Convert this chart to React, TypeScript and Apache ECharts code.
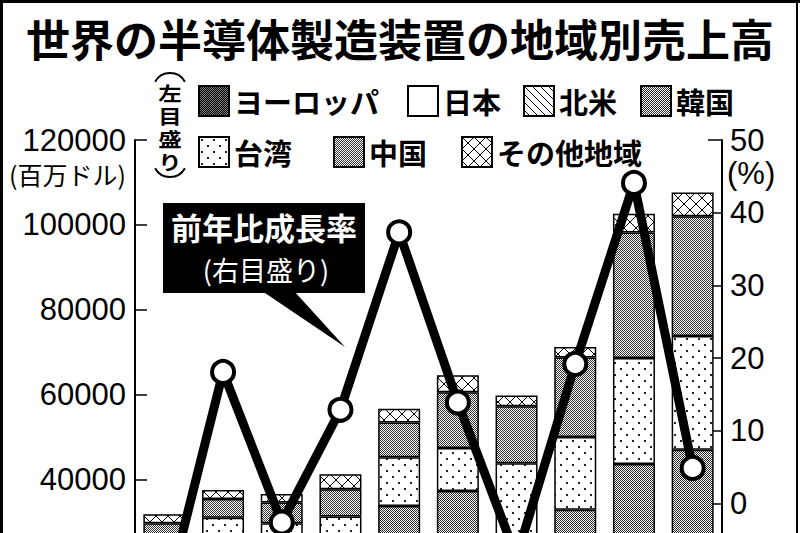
import React, { useEffect, useRef } from "react";
import * as echarts from "echarts";

const years = ["2013", "2014", "2015", "2016", "2017", "2018", "2019", "2020", "2021", "2022"];
const europe = [1910, 2380, 1940, 2180, 3670, 4220, 2270, 2640, 3250, 6620];
const japan = [3380, 4180, 5490, 4630, 6490, 9470, 6270, 7580, 7800, 8350];
const northAmerica = [5250, 8160, 5120, 4490, 5590, 5830, 8150, 6530, 7610, 10480];
const korea = [5180, 6840, 7470, 7690, 17950, 17710, 9970, 16080, 24980, 21510];
const taiwan = [10570, 9410, 9640, 12230, 11490, 10170, 17120, 17150, 24940, 26820];
const china = [3370, 4370, 4900, 6460, 8230, 13110, 13450, 18720, 29620, 28270];
const others = [2110, 2170, 1970, 3500, 3200, 4000, 2520, 2480, 4400, 5560];
const growth = [-14.0, 18.1, -2.6, 12.9, 37.3, 13.9, -7.4, 19.2, 44.1, 4.9];

const leftTicks = { min: 0, max: 120000, interval: 20000, firstShown: 40000 };
const rightTicks = { min: -20, max: 50, interval: 10, firstShown: 0 };

const NUM_FONT = "'Liberation Sans', Arial, sans-serif";
const CJK_FONT = "'Noto Sans CJK JP', 'Noto Sans', sans-serif";

function makePattern(kind: string) {
  const sizes: Record<string, number> = { europe: 2, korea: 2, china: 2, taiwan: 12, na: 8, row: 12, white: 2 };
  const s = sizes[kind];
  const c = document.createElement("canvas");
  c.width = s;
  c.height = s;
  const ctx = c.getContext("2d")!;
  ctx.fillStyle = "#fff";
  ctx.fillRect(0, 0, s, s);
  const px = (x: number, y: number, col: string) => {
    ctx.fillStyle = col;
    ctx.fillRect(x, y, 1, 1);
  };
  if (kind === "europe") {
    px(0, 0, "#000"); px(1, 1, "#000"); px(1, 0, "#7a7a7a"); px(0, 1, "#7a7a7a");
  } else if (kind === "korea") {
    px(0, 0, "#2a2a2a"); px(1, 1, "#2a2a2a");
  } else if (kind === "china") {
    px(0, 0, "#333"); px(1, 1, "#333");
  } else if (kind === "taiwan") {
    ctx.fillStyle = "#222";
    ctx.fillRect(2, 2, 2, 2);
    ctx.fillRect(8, 8, 2, 2);
  } else if (kind === "na") {
    for (let i = 0; i < s; i++) px(i, i, "#000");
  } else if (kind === "row") {
    for (let i = 0; i < s; i++) {
      px(i, i, "#000");
      px(i, s - 1 - i, "#000");
    }
  }
  return { image: c, repeat: "repeat", imageWidth: s, imageHeight: s } as any;
}

export default function App() {
  const ref = useRef<HTMLDivElement>(null);
  useEffect(() => {
    if (!ref.current) return;
    const chart = echarts.init(ref.current, null, { renderer: "svg" });
    const seriesDefs = [
      { name: "ヨーロッパ", data: europe, pat: "europe" },
      { name: "日本", data: japan, pat: "white" },
      { name: "北米", data: northAmerica, pat: "na" },
      { name: "韓国", data: korea, pat: "korea" },
      { name: "台湾", data: taiwan, pat: "taiwan" },
      { name: "中国", data: china, pat: "china" },
      { name: "その他地域", data: others, pat: "row" },
    ];
    const legendPos: Record<string, [number, number]> = {
      "ヨーロッパ": [198, 85],
      "日本": [407, 85],
      "北米": [523, 85],
      "韓国": [640, 85],
      "台湾": [198, 136],
      "中国": [333, 136],
      "その他地域": [461, 136],
    };
    const legends = seriesDefs.map((d) => ({
      data: [d.name],
      left: legendPos[d.name][0],
      top: legendPos[d.name][1],
      padding: 0,
      itemWidth: 30,
      itemHeight: 30,
      icon: "rect",
      selectedMode: false,
      itemStyle: { borderColor: "#000", borderWidth: 2 },
      textStyle: { fontSize: 29, fontWeight: "bold", color: "#000", fontFamily: CJK_FONT },
    }));
    const bars = seriesDefs.map((d) => ({
      name: d.name,
      type: "bar",
      stack: "total",
      data: d.data,
      barWidth: 42,
      itemStyle: { color: makePattern(d.pat), borderColor: "#000", borderWidth: 1.5 },
    }));
    const vertChars = ["左", "目", "盛", "り"];
    chart.setOption({
      animation: false,
      backgroundColor: "#fff",
      title: {
        text: "世界の半導体製造装置の地域別売上高",
        left: "center",
        top: 16,
        padding: 0,
        textStyle: { fontSize: 44, fontWeight: "bold", color: "#000", fontFamily: CJK_FONT, lineHeight: 44 },
      },
      legend: legends,
      grid: { left: 135, right: 78, top: 140, bottom: 51, containLabel: false },
      xAxis: {
        type: "category",
        data: years,
        axisLine: { lineStyle: { color: "#000", width: 2 } },
        axisTick: { show: false },
        axisLabel: { show: false },
      },
      yAxis: [
        {
          type: "value",
          min: leftTicks.min,
          max: leftTicks.max,
          interval: leftTicks.interval,
          splitLine: { show: false },
          axisLine: { show: true, lineStyle: { color: "#000", width: 2 } },
          axisTick: { show: true, inside: true, length: 12, lineStyle: { color: "#000", width: 1.5 } },
          axisLabel: {
            fontSize: 31,
            color: "#000",
            fontFamily: NUM_FONT,
            margin: 9,
            formatter: (v: number) => (v >= leftTicks.firstShown ? String(v) : ""),
          },
        },
        {
          type: "value",
          position: "right",
          min: rightTicks.min,
          max: rightTicks.max,
          interval: rightTicks.interval,
          splitLine: { show: false },
          axisLine: { show: true, lineStyle: { color: "#000", width: 2 } },
          axisTick: { show: true, inside: true, length: 14, lineStyle: { color: "#000", width: 1.5 } },
          axisLabel: {
            fontSize: 31,
            color: "#000",
            fontFamily: NUM_FONT,
            margin: 8,
            formatter: (v: number) => (v >= rightTicks.firstShown ? String(v) : ""),
          },
        },
      ],
      series: [
        ...bars,
        {
          name: "前年比成長率",
          type: "line",
          yAxisIndex: 1,
          data: growth,
          z: 5,
          symbol: "circle",
          symbolSize: 22,
          lineStyle: { color: "#000", width: 9, join: "round" },
          itemStyle: { color: "#fff", borderColor: "#000", borderWidth: 4 },
        },
      ],
      graphic: [
        { type: "line", z: 100, shape: { x1: 1.5, y1: 0, x2: 1.5, y2: 700 }, style: { stroke: "#000", lineWidth: 3 } },
        { type: "line", z: 100, shape: { x1: 0, y1: 1.5, x2: 800, y2: 1.5 }, style: { stroke: "#000", lineWidth: 3 } },
        { type: "line", z: 100, shape: { x1: 797, y1: 0, x2: 797, y2: 700 }, style: { stroke: "#000", lineWidth: 2 } },
        {
          type: "text",
          z: 100,
          style: { text: "(百万ドル)", x: 126, y: 174, align: "right", verticalAlign: "middle", fontSize: 25, fontFamily: CJK_FONT, fill: "#000" },
        },
        {
          type: "text",
          z: 100,
          style: { text: "(%)", x: 727, y: 173, align: "left", verticalAlign: "middle", fontSize: 31, fontFamily: NUM_FONT, fill: "#000" },
        },
        {
          type: "arc",
          z: 100,
          shape: { cx: 170, cy: 90, r: 17, startAngle: Math.PI + 0.5, endAngle: 2 * Math.PI - 0.5 },
          style: { stroke: "#000", lineWidth: 2, fill: "none" },
        },
        {
          type: "arc",
          z: 100,
          shape: { cx: 170, cy: 160, r: 17, startAngle: 0.5, endAngle: Math.PI - 0.5 },
          style: { stroke: "#000", lineWidth: 2, fill: "none" },
        },
        ...vertChars.map((ch, i) => ({
          type: "text",
          z: 100,
          x: 170,
          y: 92 + i * 23,
          scaleX: 1.3,
          scaleY: 1.1,
          style: { text: ch, x: 0, y: 0, align: "center", verticalAlign: "middle", fontSize: 18, fontWeight: "bold", fontFamily: CJK_FONT, fill: "#000" },
        })),
        {
          type: "group",
          z: 100,
          children: [
            { type: "rect", shape: { x: 163, y: 203, width: 202, height: 90 }, style: { fill: "#000" } },
            { type: "polygon", shape: { points: [[262, 291], [294, 291], [345, 347]] }, style: { fill: "#000" } },
            {
              type: "text",
              style: { text: "前年比成長率", x: 264, y: 226, align: "center", verticalAlign: "middle", fontSize: 31, fontWeight: "bold", fontFamily: CJK_FONT, fill: "#fff" },
            },
            {
              type: "text",
              style: { text: "(右目盛り)", x: 266, y: 269, align: "center", verticalAlign: "middle", fontSize: 27, fontFamily: CJK_FONT, fill: "#fff" },
            },
          ],
        },
      ],
    });
    return () => chart.dispose();
  }, []);
  return (
    <div style={{ position: "fixed", left: 0, top: 0, width: 800, height: 533, overflow: "hidden", background: "#fff" }}>
      <div ref={ref} style={{ width: 800, height: 700 }} />
    </div>
  );
}
